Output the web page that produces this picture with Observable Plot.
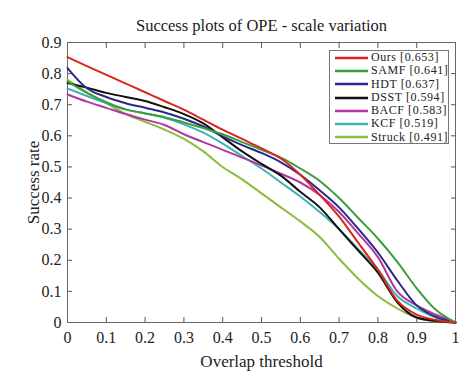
<!DOCTYPE html>
<html>
<head>
<meta charset="utf-8">
<script src="https://cdn.jsdelivr.net/npm/d3@7"></script>
<script src="https://cdn.jsdelivr.net/npm/@observablehq/plot@0.6"></script>
<style>
  body { margin: 0; background: #fff; }
  #wrap { position: relative; width: 474px; height: 386px; font-family: "Liberation Serif", serif; }
  #legend { position: absolute; left: 329px; top: 50px; width: 120px; height: 94px; border: 1px solid #777; background: #fff; box-sizing: border-box; padding-top: 0px; }
  .row { display: flex; align-items: center; height: 13.3px; line-height: 13.3px; font-family: "Liberation Serif", serif; font-size: 12px; letter-spacing: 0.55px; color: #222; white-space: nowrap; }
  .row svg { margin-left: 5px; margin-right: 3px; flex: none; }
</style>
</head>
<body>
<div id="wrap"><div id="chart"></div><div id="legend"></div></div>
<script>
const title = "Success plots of OPE - scale variation";
const xLabel = "Overlap threshold";
const yLabel = "Success rate";
const thresholds = [0,0.05,0.1,0.15,0.2,0.25,0.3,0.35,0.4,0.45,0.5,0.55,0.6,0.65,0.7,0.75,0.8,0.85,0.9,0.95,1];
const xTicks = [0,0.1,0.2,0.3,0.4,0.5,0.6,0.7,0.8,0.9,1];
const yTicks = [0,0.1,0.2,0.3,0.4,0.5,0.6,0.7,0.8,0.9];

const names = ["Ours [0.653]","SAMF [0.641]","HDT [0.637]","DSST [0.594]","BACF [0.583]","KCF [0.519]","Struck [0.491]"];
const colors = ["#d9261c","#3c9e3c","#2a2a86","#111111","#b0389e","#3fb0b4","#8dbb3e"];

const ours   = [0.853,0.824,0.796,0.768,0.74,0.712,0.684,0.652,0.62,0.59,0.56,0.527,0.475,0.41,0.34,0.255,0.17,0.07,0.025,0.008,0];
const samf   = [0.775,0.738,0.708,0.685,0.672,0.66,0.643,0.625,0.605,0.58,0.555,0.53,0.495,0.455,0.40,0.335,0.27,0.195,0.11,0.04,0];
const hdt    = [0.818,0.753,0.725,0.705,0.69,0.675,0.655,0.63,0.598,0.57,0.545,0.515,0.475,0.425,0.37,0.30,0.225,0.135,0.055,0.018,0];
const dsst   = [0.77,0.755,0.738,0.725,0.712,0.692,0.67,0.64,0.595,0.55,0.51,0.472,0.42,0.37,0.30,0.23,0.16,0.065,0.016,0.005,0];
const bacf   = [0.733,0.71,0.69,0.67,0.652,0.635,0.605,0.58,0.555,0.53,0.505,0.478,0.45,0.41,0.355,0.285,0.21,0.10,0.055,0.025,0];
const kcf    = [0.752,0.728,0.705,0.685,0.672,0.658,0.637,0.61,0.575,0.535,0.495,0.45,0.405,0.355,0.30,0.235,0.17,0.085,0.045,0.015,0];
const struck = [0.78,0.74,0.705,0.67,0.645,0.62,0.59,0.55,0.50,0.46,0.415,0.37,0.325,0.275,0.205,0.14,0.085,0.045,0.015,0.004,0];

const series = [ours, samf, hdt, dsst, bacf, kcf, struck];
const data = [];
for (let s = series.length - 1; s >= 0; s--) {
  thresholds.forEach((t, i) => data.push({name: names[s], t, v: series[s][i]}));
}

const chart = Plot.plot({
  width: 474, height: 386,
  marginLeft: 67, marginRight: 19, marginTop: 42, marginBottom: 64,
  style: {fontFamily: "Liberation Serif, serif", background: "#fff", color: "#222"},
  x: {domain: [0, 1]},
  y: {domain: [0, 0.9]},
  color: {domain: names, range: colors},
  marks: [
    Plot.axisX(xTicks, {anchor: "bottom", tickSize: -5, text: null, label: null, stroke: "#555"}),
    Plot.axisX(xTicks, {anchor: "top", tickSize: -5, text: null, label: null, stroke: "#555"}),
    Plot.axisY(yTicks, {anchor: "left", tickSize: -5, text: null, label: null, stroke: "#555"}),
    Plot.axisY(yTicks, {anchor: "right", tickSize: -5, text: null, label: null, stroke: "#555"}),
    Plot.axisX(xTicks, {anchor: "bottom", tickSize: 0, tickPadding: 9, fontSize: 16, label: xLabel, labelAnchor: "center", labelArrow: "none", labelOffset: 44, tickFormat: d => String(d)}),
    Plot.axisY(yTicks, {anchor: "left", tickSize: 0, tickPadding: 6, fontSize: 16, label: yLabel, labelAnchor: "center", labelArrow: "none", labelOffset: 41, tickFormat: d => String(d)}),
    Plot.frame({stroke: "#666"}),
    Plot.line(data, {x: "t", y: "v", z: "name", stroke: "name", strokeWidth: 2, curve: "monotone-x"}),
    Plot.text([title], {frameAnchor: "top", dy: -23, fontSize: 16.5, fill: "#222"})
  ]
});
chart.querySelectorAll("g[aria-label='x-axis label'] text, g[aria-label='y-axis label'] text").forEach(t => t.setAttribute("font-size", 17));
document.getElementById("chart").appendChild(chart);

const legend = document.getElementById("legend");
names.forEach((n, i) => {
  const row = document.createElement("div");
  row.className = "row";
  row.innerHTML = `<svg width="33" height="4"><line x1="0" x2="33" y1="2" y2="2" stroke="${colors[i]}" stroke-width="2.5"/></svg><span>${n}</span>`;
  legend.appendChild(row);
});
</script>
</body>
</html>
